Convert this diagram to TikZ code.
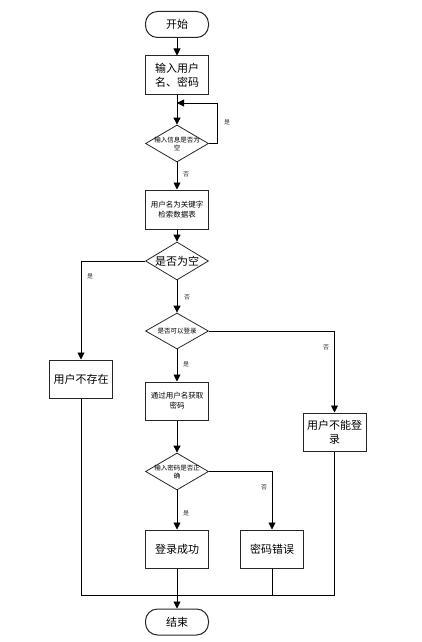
\documentclass[tikz,border=0pt]{standalone}
\usepackage{fontspec}
\setmainfont{Noto Sans CJK SC}
\usetikzlibrary{arrows.meta,shapes.geometric}

\begin{document}
\begin{tikzpicture}[
  x=1pt, y=-1pt,
  caixa/.style={draw=black!85, line width=1pt, align=center, inner sep=1pt,
                minimum width=63pt, minimum height=38pt},
  terminal/.style={caixa, rounded corners=12pt, minimum height=26pt},
  losango/.style={draw=black!85, line width=0.8pt, diamond, inner sep=0pt,
                  minimum width=63pt, minimum height=37pt},
  grande/.style={font=\fontsize{11}{14}\selectfont},
  medio/.style={font=\fontsize{7.5}{10}\selectfont},
  miudo/.style={font=\fontsize{6.5}{8}\selectfont},
  rotulo/.style={font=\fontsize{6}{7}\selectfont, text=black!80, inner sep=0pt},
  seta/.style={-{Triangle[length=7pt,width=7pt]}, line width=0.9pt},
  linha/.style={line width=0.9pt}
]
  \useasboundingbox (0,0) rectangle (421,642);

  % coluna principal
  \node[terminal, grande] (inicio) at (177,24.5) {开始};
  \node[caixa, grande] (entrada) at (177,75) {输入用户\\名、密码};
  \node[losango, label={[miudo, align=center]center:输入信息是否为\\空}] (vazio1) at (177,143.5) {};
  \node[caixa, medio, minimum height=39pt] (busca) at (177,209.5) {用户名为关键字\\检索数据表};
  \node[losango, minimum height=38pt, label={[grande]center:是否为空}] (vazio2) at (177,261) {};
  \node[losango, minimum height=36pt, label={[miudo]center:是否可以登录}] (pode) at (177,331) {};
  \node[caixa, medio] (senha) at (177,401) {通过用户名获取\\密码};
  \node[losango, label={[miudo, align=center]center:输入密码是否正\\确}] (certo) at (177,471.5) {};
  \node[caixa, grande] (sucesso) at (177,549) {登录成功};
  \node[terminal, grande] (fim) at (177,622) {结束};

  % ramos laterais
  \node[caixa, grande] (naoexiste) at (81,379) {用户不存在};
  \node[caixa, grande] (naopode) at (334.5,432) {用户不能登\\录};
  \node[caixa, grande] (errada) at (272,549) {密码错误};

  \coordinate (volta) at (177,103);
  \coordinate (voltadir) at (217,103);
  \coordinate (junta) at (177,595);

  \draw[seta] (inicio) -- (entrada);
  \draw[seta] (entrada) -- (vazio1);
  \draw[seta] (vazio1.east) -| (voltadir) -- (volta);
  \draw[seta] (vazio1) -- (busca);
  \draw[seta] (busca) -- (vazio2);
  \draw[seta] (vazio2.west) -| (naoexiste.north);
  \draw[seta] (vazio2) -- (pode);
  \draw[seta] (pode.east) -| (naopode.north);
  \draw[seta] (pode) -- (senha);
  \draw[seta] (senha) -- (certo);
  \draw[seta] (certo.east) -| (errada.north);
  \draw[seta] (certo) -- (sucesso);
  \draw[seta] (sucesso) -- (fim);

  \draw[linha] (naoexiste.south) |- (junta);
  \draw[linha] (naopode.south) |- (junta);
  \draw[linha] (errada.south) -- (errada.south |- junta);

  % rotulos
  \node[rotulo] (r1) at (227,122) {是};
  \node[rotulo] (r2) at (186,174) {否};
  \node[rotulo] (r3) at (90,276) {是};
  \node[rotulo] (r4) at (187,297) {否};
  \node[rotulo] (r5) at (326,347) {否};
  \node[rotulo] (r6) at (186,364) {是};
  \node[rotulo] (r7) at (264,487) {否};
  \node[rotulo] (r8) at (186,513) {是};
\end{tikzpicture}
\end{document}
